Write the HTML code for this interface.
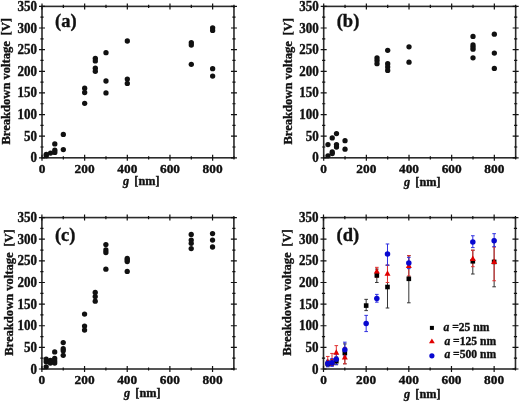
<!DOCTYPE html>
<html><head><meta charset="utf-8"><title>Breakdown voltage vs g</title>
<style>html,body{margin:0;padding:0;background:#fff;width:520px;height:402px;overflow:hidden}svg{display:block;filter:blur(0.35px)}</style>
</head><body>
<svg width="520" height="402" viewBox="0 0 520 402">
<rect width="520" height="402" fill="#fff"/>
<rect x="42.00" y="6.39" width="191.97" height="151.41" fill="none" stroke="#2b2b2b" stroke-width="1.6"/>
<path d="M42.00 154.80V160.80M42.00 3.39V9.39M63.33 156.20V159.40M63.33 4.79V7.99M84.66 154.80V160.80M84.66 3.39V9.39M105.99 156.20V159.40M105.99 4.79V7.99M127.32 154.80V160.80M127.32 3.39V9.39M148.65 156.20V159.40M148.65 4.79V7.99M169.98 154.80V160.80M169.98 3.39V9.39M191.31 156.20V159.40M191.31 4.79V7.99M212.64 154.80V160.80M212.64 3.39V9.39M233.97 156.20V159.40M233.97 4.79V7.99M39.00 157.80H45.00M230.97 157.80H236.97M40.40 146.99H43.60M232.37 146.99H235.57M39.00 136.17H45.00M230.97 136.17H236.97M40.40 125.36H43.60M232.37 125.36H235.57M39.00 114.54H45.00M230.97 114.54H236.97M40.40 103.73H43.60M232.37 103.73H235.57M39.00 92.91H45.00M230.97 92.91H236.97M40.40 82.10H43.60M232.37 82.10H235.57M39.00 71.28H45.00M230.97 71.28H236.97M40.40 60.47H43.60M232.37 60.47H235.57M39.00 49.65H45.00M230.97 49.65H236.97M40.40 38.84H43.60M232.37 38.84H235.57M39.00 28.02H45.00M230.97 28.02H236.97M40.40 17.21H43.60M232.37 17.21H235.57M39.00 6.39H45.00M230.97 6.39H236.97" stroke="#111" stroke-width="1.2" fill="none"/>
<g font-family="Liberation Serif, serif" font-weight="bold" stroke="#111" stroke-width="0.35" font-size="13" fill="#111">
<text transform="translate(37.00,162.30) scale(1,1.04)" text-anchor="end">0</text>
<text transform="translate(37.00,140.67) scale(1,1.04)" text-anchor="end">50</text>
<text transform="translate(37.00,119.04) scale(1,1.04)" text-anchor="end">100</text>
<text transform="translate(37.00,97.41) scale(1,1.04)" text-anchor="end">150</text>
<text transform="translate(37.00,75.78) scale(1,1.04)" text-anchor="end">200</text>
<text transform="translate(37.00,54.15) scale(1,1.04)" text-anchor="end">250</text>
<text transform="translate(37.00,32.52) scale(1,1.04)" text-anchor="end">300</text>
<text transform="translate(37.00,10.89) scale(1,1.04)" text-anchor="end">350</text>
<text transform="translate(42.00,173.10) scale(1.03,1.0)" text-anchor="middle">0</text>
<text transform="translate(84.66,173.10) scale(1.03,1.0)" text-anchor="middle">200</text>
<text transform="translate(127.32,173.10) scale(1.03,1.0)" text-anchor="middle">400</text>
<text transform="translate(169.98,173.10) scale(1.03,1.0)" text-anchor="middle">600</text>
<text transform="translate(212.64,173.10) scale(1.03,1.0)" text-anchor="middle">800</text>
</g>
<text font-family="Liberation Serif, serif" font-weight="bold" stroke="#111" stroke-width="0.35" font-size="12.3" fill="#111" font-style="italic" x="123.00" y="185.20">g</text>
<text font-family="Liberation Serif, serif" font-weight="bold" stroke="#111" stroke-width="0.35" font-size="12.3" fill="#111" transform="translate(134.30,185.20) scale(1,1.08)">[nm]</text>
<text font-family="Liberation Serif, serif" font-weight="bold" stroke="#111" stroke-width="0.35" font-size="12.6" fill="#111" transform="translate(10.10,144.60) rotate(-90)">Breakdown</text>
<text font-family="Liberation Serif, serif" font-weight="bold" stroke="#111" stroke-width="0.35" font-size="12.6" fill="#111" transform="translate(10.10,79.60) rotate(-90)">voltage</text>
<text font-family="Liberation Serif, serif" font-weight="bold" stroke="#111" stroke-width="0.35" font-size="12.6" fill="#111" transform="translate(10.10,35.50) rotate(-90)">[V]</text>
<text font-family="Liberation Serif, serif" font-weight="bold" stroke="#111" stroke-width="0.35" font-size="18.5" fill="#111" x="55.00" y="26.59">(a)</text>
<rect x="323.70" y="6.39" width="191.97" height="151.41" fill="none" stroke="#2b2b2b" stroke-width="1.6"/>
<path d="M323.70 154.80V160.80M323.70 3.39V9.39M345.03 156.20V159.40M345.03 4.79V7.99M366.36 154.80V160.80M366.36 3.39V9.39M387.69 156.20V159.40M387.69 4.79V7.99M409.02 154.80V160.80M409.02 3.39V9.39M430.35 156.20V159.40M430.35 4.79V7.99M451.68 154.80V160.80M451.68 3.39V9.39M473.01 156.20V159.40M473.01 4.79V7.99M494.34 154.80V160.80M494.34 3.39V9.39M515.67 156.20V159.40M515.67 4.79V7.99M320.70 157.80H326.70M512.67 157.80H518.67M322.10 146.99H325.30M514.07 146.99H517.27M320.70 136.17H326.70M512.67 136.17H518.67M322.10 125.36H325.30M514.07 125.36H517.27M320.70 114.54H326.70M512.67 114.54H518.67M322.10 103.73H325.30M514.07 103.73H517.27M320.70 92.91H326.70M512.67 92.91H518.67M322.10 82.10H325.30M514.07 82.10H517.27M320.70 71.28H326.70M512.67 71.28H518.67M322.10 60.47H325.30M514.07 60.47H517.27M320.70 49.65H326.70M512.67 49.65H518.67M322.10 38.84H325.30M514.07 38.84H517.27M320.70 28.02H326.70M512.67 28.02H518.67M322.10 17.21H325.30M514.07 17.21H517.27M320.70 6.39H326.70M512.67 6.39H518.67" stroke="#111" stroke-width="1.2" fill="none"/>
<g font-family="Liberation Serif, serif" font-weight="bold" stroke="#111" stroke-width="0.35" font-size="13" fill="#111">
<text transform="translate(318.70,162.30) scale(1,1.04)" text-anchor="end">0</text>
<text transform="translate(318.70,140.67) scale(1,1.04)" text-anchor="end">50</text>
<text transform="translate(318.70,119.04) scale(1,1.04)" text-anchor="end">100</text>
<text transform="translate(318.70,97.41) scale(1,1.04)" text-anchor="end">150</text>
<text transform="translate(318.70,75.78) scale(1,1.04)" text-anchor="end">200</text>
<text transform="translate(318.70,54.15) scale(1,1.04)" text-anchor="end">250</text>
<text transform="translate(318.70,32.52) scale(1,1.04)" text-anchor="end">300</text>
<text transform="translate(318.70,10.89) scale(1,1.04)" text-anchor="end">350</text>
<text transform="translate(323.70,173.10) scale(1.03,1.0)" text-anchor="middle">0</text>
<text transform="translate(366.36,173.10) scale(1.03,1.0)" text-anchor="middle">200</text>
<text transform="translate(409.02,173.10) scale(1.03,1.0)" text-anchor="middle">400</text>
<text transform="translate(451.68,173.10) scale(1.03,1.0)" text-anchor="middle">600</text>
<text transform="translate(494.34,173.10) scale(1.03,1.0)" text-anchor="middle">800</text>
</g>
<text font-family="Liberation Serif, serif" font-weight="bold" stroke="#111" stroke-width="0.35" font-size="12.3" fill="#111" font-style="italic" x="404.00" y="186.10">g</text>
<text font-family="Liberation Serif, serif" font-weight="bold" stroke="#111" stroke-width="0.35" font-size="12.3" fill="#111" transform="translate(415.30,186.10) scale(1,1.08)">[nm]</text>
<text font-family="Liberation Serif, serif" font-weight="bold" stroke="#111" stroke-width="0.35" font-size="12.6" fill="#111" transform="translate(291.50,144.60) rotate(-90)">Breakdown</text>
<text font-family="Liberation Serif, serif" font-weight="bold" stroke="#111" stroke-width="0.35" font-size="12.6" fill="#111" transform="translate(291.50,79.60) rotate(-90)">voltage</text>
<text font-family="Liberation Serif, serif" font-weight="bold" stroke="#111" stroke-width="0.35" font-size="12.6" fill="#111" transform="translate(291.50,35.50) rotate(-90)">[V]</text>
<text font-family="Liberation Serif, serif" font-weight="bold" stroke="#111" stroke-width="0.35" font-size="18.5" fill="#111" x="336.70" y="26.59">(b)</text>
<rect x="41.90" y="217.59" width="191.97" height="151.41" fill="none" stroke="#2b2b2b" stroke-width="1.6"/>
<path d="M41.90 366.00V372.00M41.90 214.59V220.59M63.23 367.40V370.60M63.23 215.99V219.19M84.56 366.00V372.00M84.56 214.59V220.59M105.89 367.40V370.60M105.89 215.99V219.19M127.22 366.00V372.00M127.22 214.59V220.59M148.55 367.40V370.60M148.55 215.99V219.19M169.88 366.00V372.00M169.88 214.59V220.59M191.21 367.40V370.60M191.21 215.99V219.19M212.54 366.00V372.00M212.54 214.59V220.59M233.87 367.40V370.60M233.87 215.99V219.19M38.90 369.00H44.90M230.87 369.00H236.87M40.30 358.19H43.50M232.27 358.19H235.47M38.90 347.37H44.90M230.87 347.37H236.87M40.30 336.56H43.50M232.27 336.56H235.47M38.90 325.74H44.90M230.87 325.74H236.87M40.30 314.93H43.50M232.27 314.93H235.47M38.90 304.11H44.90M230.87 304.11H236.87M40.30 293.30H43.50M232.27 293.30H235.47M38.90 282.48H44.90M230.87 282.48H236.87M40.30 271.67H43.50M232.27 271.67H235.47M38.90 260.85H44.90M230.87 260.85H236.87M40.30 250.04H43.50M232.27 250.04H235.47M38.90 239.22H44.90M230.87 239.22H236.87M40.30 228.41H43.50M232.27 228.41H235.47M38.90 217.59H44.90M230.87 217.59H236.87" stroke="#111" stroke-width="1.2" fill="none"/>
<g font-family="Liberation Serif, serif" font-weight="bold" stroke="#111" stroke-width="0.35" font-size="13" fill="#111">
<text transform="translate(36.90,373.50) scale(1,1.04)" text-anchor="end">0</text>
<text transform="translate(36.90,351.87) scale(1,1.04)" text-anchor="end">50</text>
<text transform="translate(36.90,330.24) scale(1,1.04)" text-anchor="end">100</text>
<text transform="translate(36.90,308.61) scale(1,1.04)" text-anchor="end">150</text>
<text transform="translate(36.90,286.98) scale(1,1.04)" text-anchor="end">200</text>
<text transform="translate(36.90,265.35) scale(1,1.04)" text-anchor="end">250</text>
<text transform="translate(36.90,243.72) scale(1,1.04)" text-anchor="end">300</text>
<text transform="translate(36.90,222.09) scale(1,1.04)" text-anchor="end">350</text>
<text transform="translate(41.90,384.30) scale(1.03,1.0)" text-anchor="middle">0</text>
<text transform="translate(84.56,384.30) scale(1.03,1.0)" text-anchor="middle">200</text>
<text transform="translate(127.22,384.30) scale(1.03,1.0)" text-anchor="middle">400</text>
<text transform="translate(169.88,384.30) scale(1.03,1.0)" text-anchor="middle">600</text>
<text transform="translate(212.54,384.30) scale(1.03,1.0)" text-anchor="middle">800</text>
</g>
<text font-family="Liberation Serif, serif" font-weight="bold" stroke="#111" stroke-width="0.35" font-size="12.3" fill="#111" font-style="italic" x="123.90" y="396.60">g</text>
<text font-family="Liberation Serif, serif" font-weight="bold" stroke="#111" stroke-width="0.35" font-size="12.3" fill="#111" transform="translate(135.30,396.60) scale(1,1.08)">[nm]</text>
<text font-family="Liberation Serif, serif" font-weight="bold" stroke="#111" stroke-width="0.35" font-size="12.6" fill="#111" transform="translate(12.60,355.80) rotate(-90)">Breakdown</text>
<text font-family="Liberation Serif, serif" font-weight="bold" stroke="#111" stroke-width="0.35" font-size="12.6" fill="#111" transform="translate(12.60,290.80) rotate(-90)">voltage</text>
<text font-family="Liberation Serif, serif" font-weight="bold" stroke="#111" stroke-width="0.35" font-size="12.6" fill="#111" transform="translate(12.60,246.70) rotate(-90)">[V]</text>
<text font-family="Liberation Serif, serif" font-weight="bold" stroke="#111" stroke-width="0.35" font-size="18.5" fill="#111" x="54.90" y="241.49">(c)</text>
<rect x="323.50" y="217.59" width="191.97" height="151.41" fill="none" stroke="#2b2b2b" stroke-width="1.6"/>
<path d="M323.50 366.00V372.00M323.50 214.59V220.59M344.83 367.40V370.60M344.83 215.99V219.19M366.16 366.00V372.00M366.16 214.59V220.59M387.49 367.40V370.60M387.49 215.99V219.19M408.82 366.00V372.00M408.82 214.59V220.59M430.15 367.40V370.60M430.15 215.99V219.19M451.48 366.00V372.00M451.48 214.59V220.59M472.81 367.40V370.60M472.81 215.99V219.19M494.14 366.00V372.00M494.14 214.59V220.59M515.47 367.40V370.60M515.47 215.99V219.19M320.50 369.00H326.50M512.47 369.00H518.47M321.90 358.19H325.10M513.87 358.19H517.07M320.50 347.37H326.50M512.47 347.37H518.47M321.90 336.56H325.10M513.87 336.56H517.07M320.50 325.74H326.50M512.47 325.74H518.47M321.90 314.93H325.10M513.87 314.93H517.07M320.50 304.11H326.50M512.47 304.11H518.47M321.90 293.30H325.10M513.87 293.30H517.07M320.50 282.48H326.50M512.47 282.48H518.47M321.90 271.67H325.10M513.87 271.67H517.07M320.50 260.85H326.50M512.47 260.85H518.47M321.90 250.04H325.10M513.87 250.04H517.07M320.50 239.22H326.50M512.47 239.22H518.47M321.90 228.41H325.10M513.87 228.41H517.07M320.50 217.59H326.50M512.47 217.59H518.47" stroke="#111" stroke-width="1.2" fill="none"/>
<g font-family="Liberation Serif, serif" font-weight="bold" stroke="#111" stroke-width="0.35" font-size="13" fill="#111">
<text transform="translate(318.50,373.50) scale(1,1.04)" text-anchor="end">0</text>
<text transform="translate(318.50,351.87) scale(1,1.04)" text-anchor="end">50</text>
<text transform="translate(318.50,330.24) scale(1,1.04)" text-anchor="end">100</text>
<text transform="translate(318.50,308.61) scale(1,1.04)" text-anchor="end">150</text>
<text transform="translate(318.50,286.98) scale(1,1.04)" text-anchor="end">200</text>
<text transform="translate(318.50,265.35) scale(1,1.04)" text-anchor="end">250</text>
<text transform="translate(318.50,243.72) scale(1,1.04)" text-anchor="end">300</text>
<text transform="translate(318.50,222.09) scale(1,1.04)" text-anchor="end">350</text>
<text transform="translate(323.50,384.30) scale(1.03,1.0)" text-anchor="middle">0</text>
<text transform="translate(366.16,384.30) scale(1.03,1.0)" text-anchor="middle">200</text>
<text transform="translate(408.82,384.30) scale(1.03,1.0)" text-anchor="middle">400</text>
<text transform="translate(451.48,384.30) scale(1.03,1.0)" text-anchor="middle">600</text>
<text transform="translate(494.14,384.30) scale(1.03,1.0)" text-anchor="middle">800</text>
</g>
<text font-family="Liberation Serif, serif" font-weight="bold" stroke="#111" stroke-width="0.35" font-size="12.3" fill="#111" font-style="italic" x="404.00" y="397.60">g</text>
<text font-family="Liberation Serif, serif" font-weight="bold" stroke="#111" stroke-width="0.35" font-size="12.3" fill="#111" transform="translate(415.35,397.60) scale(1,1.08)">[nm]</text>
<text font-family="Liberation Serif, serif" font-weight="bold" stroke="#111" stroke-width="0.35" font-size="12.6" fill="#111" transform="translate(291.10,355.80) rotate(-90)">Breakdown</text>
<text font-family="Liberation Serif, serif" font-weight="bold" stroke="#111" stroke-width="0.35" font-size="12.6" fill="#111" transform="translate(291.10,290.80) rotate(-90)">voltage</text>
<text font-family="Liberation Serif, serif" font-weight="bold" stroke="#111" stroke-width="0.35" font-size="12.6" fill="#111" transform="translate(291.10,246.70) rotate(-90)">[V]</text>
<text font-family="Liberation Serif, serif" font-weight="bold" stroke="#111" stroke-width="0.35" font-size="18.5" fill="#111" x="336.50" y="241.19">(d)</text>
<g fill="#111">
<circle cx="46.27" cy="154.34" r="2.65"/>
<circle cx="46.27" cy="155.81" r="2.65"/>
<circle cx="50.53" cy="153.04" r="2.65"/>
<circle cx="54.80" cy="143.96" r="2.65"/>
<circle cx="54.80" cy="150.19" r="2.65"/>
<circle cx="54.80" cy="152.39" r="2.65"/>
<circle cx="63.33" cy="134.44" r="2.65"/>
<circle cx="63.33" cy="149.58" r="2.65"/>
<circle cx="84.66" cy="88.15" r="2.65"/>
<circle cx="84.66" cy="92.48" r="2.65"/>
<circle cx="84.66" cy="103.29" r="2.65"/>
<circle cx="95.32" cy="58.30" r="2.65"/>
<circle cx="95.32" cy="60.90" r="2.65"/>
<circle cx="95.32" cy="68.25" r="2.65"/>
<circle cx="95.32" cy="71.28" r="2.65"/>
<circle cx="105.99" cy="52.68" r="2.65"/>
<circle cx="105.99" cy="81.01" r="2.65"/>
<circle cx="105.99" cy="92.91" r="2.65"/>
<circle cx="127.32" cy="41.00" r="2.65"/>
<circle cx="127.32" cy="79.07" r="2.65"/>
<circle cx="127.32" cy="83.39" r="2.65"/>
<circle cx="191.31" cy="42.73" r="2.65"/>
<circle cx="191.31" cy="45.11" r="2.65"/>
<circle cx="191.31" cy="64.36" r="2.65"/>
<circle cx="212.64" cy="27.80" r="2.65"/>
<circle cx="212.64" cy="30.40" r="2.65"/>
<circle cx="212.64" cy="68.68" r="2.65"/>
<circle cx="212.64" cy="76.04" r="2.65"/>
</g>
<g fill="#111">
<circle cx="327.97" cy="144.61" r="2.65"/>
<circle cx="327.97" cy="155.81" r="2.65"/>
<circle cx="332.23" cy="137.90" r="2.65"/>
<circle cx="332.23" cy="151.92" r="2.65"/>
<circle cx="332.23" cy="153.60" r="2.65"/>
<circle cx="336.50" cy="133.57" r="2.65"/>
<circle cx="336.50" cy="144.61" r="2.65"/>
<circle cx="336.50" cy="146.99" r="2.65"/>
<circle cx="345.03" cy="140.71" r="2.65"/>
<circle cx="345.03" cy="149.15" r="2.65"/>
<circle cx="377.02" cy="57.87" r="2.65"/>
<circle cx="377.02" cy="60.47" r="2.65"/>
<circle cx="377.02" cy="63.71" r="2.65"/>
<circle cx="387.69" cy="50.30" r="2.65"/>
<circle cx="387.69" cy="63.71" r="2.65"/>
<circle cx="387.69" cy="66.95" r="2.65"/>
<circle cx="387.69" cy="70.41" r="2.65"/>
<circle cx="409.02" cy="46.84" r="2.65"/>
<circle cx="409.02" cy="62.20" r="2.65"/>
<circle cx="473.01" cy="36.46" r="2.65"/>
<circle cx="473.01" cy="45.02" r="2.65"/>
<circle cx="473.01" cy="47.05" r="2.65"/>
<circle cx="473.01" cy="49.22" r="2.65"/>
<circle cx="473.01" cy="57.87" r="2.65"/>
<circle cx="494.34" cy="34.21" r="2.65"/>
<circle cx="494.34" cy="53.11" r="2.65"/>
<circle cx="494.34" cy="68.38" r="2.65"/>
</g>
<g fill="#111">
<circle cx="46.17" cy="359.05" r="2.65"/>
<circle cx="46.17" cy="361.65" r="2.65"/>
<circle cx="46.17" cy="366.84" r="2.65"/>
<circle cx="50.43" cy="360.35" r="2.65"/>
<circle cx="50.43" cy="363.12" r="2.65"/>
<circle cx="54.70" cy="351.91" r="2.65"/>
<circle cx="54.70" cy="358.40" r="2.65"/>
<circle cx="54.70" cy="361.00" r="2.65"/>
<circle cx="54.70" cy="363.12" r="2.65"/>
<circle cx="63.23" cy="342.61" r="2.65"/>
<circle cx="63.23" cy="348.67" r="2.65"/>
<circle cx="63.23" cy="350.70" r="2.65"/>
<circle cx="63.23" cy="355.37" r="2.65"/>
<circle cx="84.56" cy="314.06" r="2.65"/>
<circle cx="84.56" cy="326.09" r="2.65"/>
<circle cx="84.56" cy="330.07" r="2.65"/>
<circle cx="95.22" cy="292.43" r="2.65"/>
<circle cx="95.22" cy="296.58" r="2.65"/>
<circle cx="95.22" cy="301.17" r="2.65"/>
<circle cx="105.89" cy="244.58" r="2.65"/>
<circle cx="105.89" cy="249.91" r="2.65"/>
<circle cx="105.89" cy="252.50" r="2.65"/>
<circle cx="105.89" cy="269.20" r="2.65"/>
<circle cx="127.22" cy="258.38" r="2.65"/>
<circle cx="127.22" cy="259.98" r="2.65"/>
<circle cx="127.22" cy="261.59" r="2.65"/>
<circle cx="127.22" cy="271.41" r="2.65"/>
<circle cx="191.21" cy="234.46" r="2.65"/>
<circle cx="191.21" cy="240.09" r="2.65"/>
<circle cx="191.21" cy="243.29" r="2.65"/>
<circle cx="191.21" cy="248.61" r="2.65"/>
<circle cx="212.54" cy="233.60" r="2.65"/>
<circle cx="212.54" cy="240.09" r="2.65"/>
<circle cx="212.54" cy="247.01" r="2.65"/>
</g>
<path d="M327.77 366.40V360.35M325.97 366.40H329.57M325.97 360.35H329.57M332.03 365.54V359.48M330.23 365.54H333.83M330.23 359.48H333.83M336.30 364.67V356.89M334.50 364.67H338.10M334.50 356.89H338.10M344.83 363.81V343.91M343.03 363.81H346.63M343.03 343.91H346.63M366.16 310.60V299.35M364.36 310.60H367.96M364.36 299.35H367.96M376.82 282.48V269.07M375.02 282.48H378.62M375.02 269.07H378.62M387.49 308.00V265.18M385.69 308.00H389.29M385.69 265.18H389.29M408.82 302.81V255.66M407.02 302.81H410.62M407.02 255.66H410.62M472.81 274.00V250.21M471.01 274.00H474.61M471.01 250.21H474.61M494.14 286.81V239.22M492.34 286.81H495.94M492.34 239.22H495.94" stroke="#333" stroke-width="1" fill="none"/>
<path d="M327.77 365.54V356.45M325.97 365.54H329.57M325.97 356.45H329.57M332.03 365.54V353.43M330.23 365.54H333.83M330.23 353.43H333.83M336.30 358.62V345.64M334.50 358.62H338.10M334.50 345.64H338.10M344.83 363.81V347.37M343.03 363.81H346.63M343.03 347.37H346.63M376.82 277.29V267.34M375.02 277.29H378.62M375.02 267.34H378.62M387.49 282.48V265.18M385.69 282.48H389.29M385.69 265.18H389.29M408.82 275.99V255.66M407.02 275.99H410.62M407.02 255.66H410.62M472.81 266.69V250.21M471.01 266.69H474.61M471.01 250.21H474.61M494.14 280.75V247.01M492.34 280.75H495.94M492.34 247.01H495.94" stroke="#e03030" stroke-width="1" fill="none"/>
<path d="M327.77 366.84V360.35M325.97 366.84H329.57M325.97 360.35H329.57M332.03 366.40V358.62M330.23 366.40H333.83M330.23 358.62H333.83M336.30 364.67V353.86M334.50 364.67H338.10M334.50 353.86H338.10M344.83 356.02V342.18M343.03 356.02H346.63M343.03 342.18H346.63M366.16 331.58V315.36M364.36 331.58H367.96M364.36 315.36H367.96M376.82 302.16V294.38M375.02 302.16H378.62M375.02 294.38H378.62M387.49 265.18V243.98M385.69 265.18H389.29M385.69 243.98H389.29M408.82 268.64V257.39M407.02 268.64H410.62M407.02 257.39H410.62M472.81 247.61V235.76M471.01 247.61H474.61M471.01 235.76H474.61M494.14 246.70V233.68M492.34 246.70H495.94M492.34 233.68H495.94" stroke="#3030e0" stroke-width="1" fill="none"/>
<rect x="325.47" y="361.51" width="4.6" height="4.6" fill="#000"/>
<rect x="329.73" y="360.64" width="4.6" height="4.6" fill="#000"/>
<rect x="334.00" y="358.91" width="4.6" height="4.6" fill="#000"/>
<rect x="342.53" y="350.69" width="4.6" height="4.6" fill="#000"/>
<rect x="363.86" y="303.28" width="4.6" height="4.6" fill="#000"/>
<rect x="374.52" y="273.09" width="4.6" height="4.6" fill="#000"/>
<rect x="385.19" y="284.72" width="4.6" height="4.6" fill="#000"/>
<rect x="406.52" y="276.50" width="4.6" height="4.6" fill="#000"/>
<rect x="470.51" y="258.98" width="4.6" height="4.6" fill="#000"/>
<rect x="491.84" y="259.59" width="4.6" height="4.6" fill="#000"/>
<path d="M327.77 358.78L330.77 364.28L324.77 364.28Z" fill="#e00000"/>
<path d="M332.03 357.91L335.03 363.41L329.03 363.41Z" fill="#e00000"/>
<path d="M336.30 349.26L339.30 354.76L333.30 354.76Z" fill="#e00000"/>
<path d="M344.83 354.02L347.83 359.52L341.83 359.52Z" fill="#e00000"/>
<path d="M376.82 268.11L379.82 273.61L373.82 273.61Z" fill="#e00000"/>
<path d="M387.49 270.31L390.49 275.81L384.49 275.81Z" fill="#e00000"/>
<path d="M408.82 262.52L411.82 268.02L405.82 268.02Z" fill="#e00000"/>
<path d="M472.81 255.60L475.81 261.10L469.81 261.10Z" fill="#e00000"/>
<path d="M494.14 258.59L497.14 264.09L491.14 264.09Z" fill="#e00000"/>
<circle cx="327.77" cy="363.59" r="2.75" fill="#0808d0"/>
<circle cx="332.03" cy="362.81" r="2.75" fill="#0808d0"/>
<circle cx="336.30" cy="359.22" r="2.75" fill="#0808d0"/>
<circle cx="344.83" cy="349.79" r="2.75" fill="#0808d0"/>
<circle cx="366.16" cy="323.58" r="2.75" fill="#0808d0"/>
<circle cx="376.82" cy="298.40" r="2.75" fill="#0808d0"/>
<circle cx="387.49" cy="253.93" r="2.75" fill="#0808d0"/>
<circle cx="408.82" cy="263.10" r="2.75" fill="#0808d0"/>
<circle cx="472.81" cy="241.90" r="2.75" fill="#0808d0"/>
<circle cx="494.14" cy="240.69" r="2.75" fill="#0808d0"/>
<rect x="429.90" y="325.90" width="4" height="4" fill="#000"/>
<path d="M431.90 338.40L434.80 343.30L429.00 343.30Z" fill="#e00000"/>
<circle cx="431.90" cy="355.8" r="2.6" fill="#0808d0"/>
<g font-family="Liberation Serif, serif" font-weight="bold" stroke="#111" stroke-width="0.35" font-size="11.6" fill="#111">
<text x="443.5" y="330.9"><tspan font-style="italic">a</tspan> =25 nm</text>
<text x="444.4" y="344.6"><tspan font-style="italic">a</tspan> =125 nm</text>
<text x="444.4" y="358.3"><tspan font-style="italic">a</tspan> =500 nm</text>
</g>
</svg>
</body></html>
